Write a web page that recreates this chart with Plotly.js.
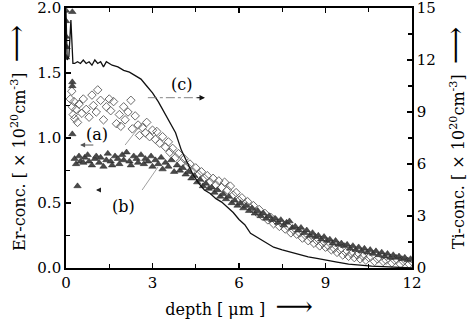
<!DOCTYPE html>
<html><head><meta charset="utf-8">
<script src="https://cdn.plot.ly/plotly-3.0.1.min.js"></script>
<style>html,body{margin:0;padding:0;background:#fff}#chart{width:474px;height:321px}</style>
</head><body><div id="chart"></div>
<script>
// (b) Er concentration, triangles [x1e20 cm^-3]
const erB_x = [0,0,0,0,0.02,0.22,0.22,0.22,0.22,0.4,
0.3,0.35,0.45,0.5,0.6,0.65,0.75,0.8,0.9,1.0,1.05,1.15,1.2,1.3,1.4,1.45,1.55,1.6,1.7,1.8,1.85,1.95,2.0,2.1,2.2,2.25,2.35,2.45,2.5,2.6,2.7,2.75,2.85,2.95,3.0,3.1,3.2,3.3,3.35,3.45,3.55,3.65,3.75,3.85,3.95,
4.05,4.15,4.25,4.35,4.45,4.55,4.65,4.75,4.85,4.95,5.05,5.15,5.25,5.35,5.45,5.55,5.65,5.75,5.85,5.95,6.05,6.15,6.25,6.35,6.45,6.55,6.65,6.75,6.85,6.95,7.05,7.15,7.25,7.35,7.45,7.55,7.65,7.75,7.85,7.95,8.05,8.15,8.25,8.35,8.45,8.55,8.65,8.75,8.85,8.95,9.05,9.15,9.25,9.35,9.45,9.55,9.65,9.75,9.85,9.95,10.05,10.15,10.25,10.35,10.45,10.55,10.65,10.75,10.85,10.95,11.05,11.15,11.25,11.35,11.45,11.55,11.65,11.75,11.85,11.95];
const erB_y = [1.98,1.9,1.78,1.62,1.7,1.97,1.43,1.4,1.03,0.63,
0.84,0.80,0.86,0.82,0.81,0.85,0.87,0.82,0.79,0.84,0.86,0.81,0.85,0.78,0.83,0.88,0.82,0.79,0.86,0.84,0.80,0.87,0.83,0.89,0.82,0.79,0.86,0.84,0.81,0.87,0.80,0.84,0.82,0.86,0.78,0.83,0.80,0.85,0.76,0.81,0.78,0.83,0.74,0.79,0.75,
0.77,0.72,0.74,0.69,0.71,0.66,0.68,0.63,0.65,0.61,0.62,0.58,0.60,0.55,0.57,0.53,0.55,0.50,0.52,0.48,0.50,0.46,0.48,0.44,0.46,0.42,0.44,0.40,0.42,0.38,0.40,0.37,0.38,0.35,0.37,0.33,0.35,0.36,0.31,0.32,0.29,0.31,0.27,0.29,0.25,0.27,0.24,0.25,0.22,0.24,0.21,0.22,0.19,0.21,0.18,0.19,0.17,0.18,0.15,0.17,0.14,0.16,0.13,0.15,0.12,0.14,0.11,0.13,0.10,0.12,0.09,0.11,0.08,0.10,0.08,0.09,0.07,0.08,0.06,0.07];

// (a) Er concentration, diamonds
const erA_x = [0.15,0.2,0.22,0.25,0.28,0.3,0.35,0.4,0.45,0.55,0.6,0.7,0.8,0.9,0.95,1.05,1.1,1.2,1.3,1.4,1.5,1.55,1.65,1.75,1.85,1.9,2.0,2.05,2.15,2.25,2.3,2.4,2.5,2.55,2.65,2.75,2.8,2.9,3.0,3.1,3.15,3.25,3.35,3.45,3.55,3.6,3.7,3.8,3.9,4.0,4.1,4.2,4.3,4.4,4.5,4.6,4.7,4.8,4.9,5.0,5.1,5.2,5.3,5.4,5.5,5.6,5.7,5.8,5.9,6.0,6.1,6.2,6.3,6.4,6.5,6.6,6.7,6.8,6.9,7.0,7.1,7.2,7.3,7.4,7.5,7.6,7.7,7.8,7.9,8.0,8.1,8.2,8.3,8.4,8.5,8.6,8.7,8.8,8.9,9.0,9.1,9.2,9.3,9.4,9.5,9.6,9.7,9.8,9.9,10.0,10.1,10.2,10.3,10.4,10.5,10.7,10.8,11.0,11.1,11.3,11.4,11.6,11.7,11.9,12.0];
const erA_y = [1.30,1.36,1.24,1.18,1.28,1.15,1.22,1.12,1.26,1.19,1.30,1.22,1.16,1.33,1.25,1.20,1.37,1.29,1.14,1.24,1.30,1.21,1.28,1.11,1.18,1.09,1.24,1.14,1.20,1.29,1.07,1.17,1.10,1.02,1.08,1.04,1.12,1.01,1.06,0.99,1.05,0.96,1.01,0.93,0.97,0.89,0.92,0.85,0.88,0.81,0.84,0.78,0.80,0.74,0.77,0.72,0.74,0.69,0.71,0.66,0.69,0.64,0.67,0.62,0.66,0.60,0.63,0.56,0.58,0.52,0.54,0.49,0.51,0.46,0.48,0.43,0.45,0.40,0.42,0.37,0.39,0.34,0.36,0.32,0.34,0.30,0.32,0.27,0.29,0.26,0.27,0.23,0.25,0.21,0.23,0.19,0.21,0.17,0.19,0.16,0.17,0.14,0.15,0.12,0.14,0.10,0.12,0.09,0.11,0.08,0.10,0.07,0.09,0.06,0.08,0.05,0.07,0.05,0.06,0.04,0.06,0.03,0.05,0.03,0.05];

// (c) Ti concentration, line [x1e20 cm^-3], right axis
const tiC_x = [0,0.04,0.1,0.17,0.24,0.3,0.4,0.5,0.6,0.7,0.8,0.9,1.0,1.1,1.2,1.3,1.4,1.5,1.6,1.8,2.0,2.2,2.4,2.6,2.8,3.0,3.2,3.4,3.6,3.8,4.0,4.2,4.4,4.6,4.8,5.0,5.2,5.4,5.6,5.8,6.0,6.2,6.4,6.6,6.8,7.0,7.2,7.5,7.8,8.1,8.4,8.7,9.0,9.4,9.8,10.2,10.6,11.0,11.5,12.0];
const tiC_y = [14.8,12.0,12.2,14.3,11.8,11.8,11.9,11.8,12.0,11.8,11.9,11.7,12.0,11.8,11.9,11.6,11.9,11.8,11.7,11.6,11.4,11.3,11.1,10.9,10.5,10.1,9.6,9.0,8.4,7.8,6.8,6.1,5.4,4.9,4.5,4.3,4.0,3.8,3.5,3.2,2.8,2.5,2.0,1.8,1.6,1.35,1.2,1.05,0.9,0.75,0.64,0.56,0.45,0.34,0.22,0.15,0.11,0.08,0.04,0.0];

const xTicks = [0,3,6,9,12];
const yTicks = [0,0.5,1.0,1.5,2.0];
const y2Ticks = [0,3,6,9,12,15];

const FONT = 'DejaVu Serif';
const FS = 15;
const ARROW = '<span style="font-size:26px">⟶</span>';

const traces = [
  {x: tiC_x, y: tiC_y, yaxis:'y2', mode:'lines', line:{color:'#111', width:1.3}, hoverinfo:'skip'},
  {x: erA_x, y: erA_y, mode:'markers', marker:{symbol:'diamond-open', size:6.5, color:'#5a5a5a', line:{width:0.9}}},
  {x: erB_x, y: erB_y, mode:'markers', marker:{symbol:'triangle-up', size:6.5, color:'#4a4a4a', line:{color:'#222', width:0.5}}}
];

const axBase = {ticks:'inside', showgrid:false, zeroline:false, showline:true, linecolor:'#000', linewidth:1.8,
  tickcolor:'#000', ticklen:5, tickwidth:1.2, ticklabeloverflow:'allow',
  tickfont:{family:FONT, size:FS, color:'#000'}};

const layout = {
  width:474, height:321, showlegend:false,
  paper_bgcolor:'#fff', plot_bgcolor:'#fff',
  margin:{l:66, r:62, t:8, b:53},
  font:{family:FONT, color:'#000', size:FS},
  xaxis: Object.assign({}, axBase, {range:[0,12], tickvals:xTicks, ticktext:xTicks.map(String), mirror:'ticks',
    minor:{dtick:1.5, ticks:'inside', ticklen:4, tickcolor:'#000'},
    title:{text:'depth [ μm ]  ' + ARROW, font:{family:FONT, size:16}, standoff:4}}),
  yaxis: Object.assign({}, axBase, {range:[0,2], tickvals:yTicks, ticktext:yTicks.map(v=>v.toFixed(1)),
    minor:{dtick:0.25, ticks:'inside', ticklen:4, tickcolor:'#000'},
    title:{text:'Er-conc. [ × 10<sup>20</sup>cm<sup>-3</sup>]  ' + ARROW, font:{family:FONT, size:16}, standoff:8}}),
  yaxis2: Object.assign({}, axBase, {range:[0,15], overlaying:'y', side:'right', tickvals:y2Ticks, ticktext:y2Ticks.map(String),
    minor:{dtick:1.5, ticks:'inside', ticklen:4, tickcolor:'#000'},
    title:{text:'Ti-conc. [ × 10<sup>20</sup>cm<sup>-3</sup>]  ' + ARROW, font:{family:FONT, size:16}, standoff:18}}),
  annotations:[
    {x:1.08, y:1.03, text:'(a)', showarrow:false, font:{family:FONT, size:16}},
    {x:1.98, y:0.47, text:'(b)', showarrow:false, font:{family:FONT, size:16}},
    {x:3.99, y:1.41, text:'(c)', showarrow:false, font:{family:FONT, size:16}},
    {x:0.49, y:0.946, ax:1.0, ay:0.946, axref:'x', ayref:'y', text:'', showarrow:true, arrowhead:2, arrowsize:1, arrowwidth:1, arrowcolor:'#555'},
    {x:1.04, y:0.6, ax:1.25, ay:0.6, axref:'x', ayref:'y', text:'', showarrow:true, arrowhead:2, arrowsize:1, arrowwidth:1, arrowcolor:'#222'},
    {x:4.82, y:1.31, ax:4.5, ay:1.31, axref:'x', ayref:'y', text:'', showarrow:true, arrowhead:2, arrowsize:1.1, arrowwidth:1, arrowcolor:'#111'}
  ],
  shapes:[
    {type:'line', xref:'x', yref:'y', x0:2.84, y0:1.31, x1:4.7, y1:1.31, line:{color:'#777', width:0.9, dash:'dashdot'}},
    {type:'line', xref:'x', yref:'y', x0:2.05, y0:0.946, x1:2.64, y1:1.115, line:{color:'#888', width:0.8}},
    {type:'line', xref:'x', yref:'y', x0:2.64, y0:0.6, x1:3.19, y1:0.777, line:{color:'#888', width:0.8}}
  ]
};

Plotly.newPlot('chart', traces, layout, {staticPlot:true, displayModeBar:false});
</script></body></html>
